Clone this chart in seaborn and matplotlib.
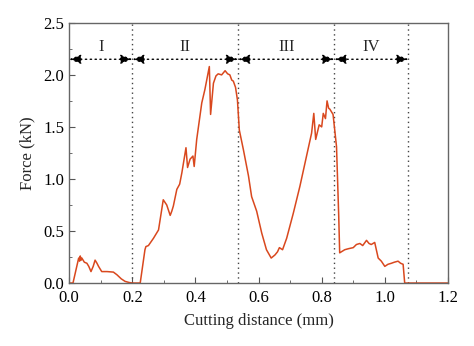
import numpy as np
import pandas as pd
import seaborn as sns
import matplotlib.pyplot as plt
from matplotlib.ticker import MultipleLocator, FormatStrFormatter

distance = [0.0, 0.012, 0.030, 0.033, 0.035, 0.038, 0.040, 0.048, 0.056, 0.062, 0.069, 0.076, 0.082, 0.088,
            0.093, 0.103, 0.120, 0.140, 0.151, 0.165, 0.177, 0.190, 0.200,
            0.225, 0.240, 0.243, 0.251, 0.267, 0.283, 0.298, 0.309, 0.320, 0.325, 0.330, 0.341, 0.350, 0.357,
            0.370, 0.375, 0.383, 0.392, 0.396, 0.404, 0.420, 0.430, 0.444, 0.448, 0.457, 0.465, 0.472, 0.483,
            0.494, 0.502, 0.509, 0.515, 0.520, 0.527, 0.533, 0.539, 0.552, 0.568, 0.578, 0.594, 0.610, 0.625,
            0.640, 0.652, 0.660, 0.666, 0.676, 0.689, 0.710, 0.731, 0.752, 0.768, 0.775, 0.781, 0.792, 0.800,
            0.805, 0.812, 0.817, 0.822, 0.826, 0.836, 0.847, 0.854, 0.857, 0.873, 0.885, 0.900, 0.910, 0.921,
            0.930, 0.942, 0.950, 0.957, 0.968, 0.979, 0.989, 1.000, 1.010, 1.021, 1.030, 1.042, 1.050, 1.058,
            1.063, 1.200]
force = [0.0, 0.0, 0.24, 0.21, 0.26, 0.22, 0.24, 0.20, 0.19, 0.16, 0.11, 0.16, 0.22, 0.19,
         0.16, 0.11, 0.11, 0.105, 0.08, 0.04, 0.016, 0.005, 0.0,
         0.0, 0.32, 0.35, 0.36, 0.43, 0.51, 0.80, 0.75, 0.65, 0.69, 0.74, 0.90, 0.95, 1.06,
         1.30, 1.11, 1.19, 1.22, 1.12, 1.38, 1.73, 1.86, 2.08, 1.62, 1.92, 1.99, 2.01, 2.00,
         2.04, 2.01, 2.00, 1.95, 1.94, 1.88, 1.76, 1.47, 1.28, 1.03, 0.83, 0.69, 0.48, 0.32,
         0.24, 0.27, 0.30, 0.34, 0.32, 0.43, 0.67, 0.93, 1.22, 1.44, 1.63, 1.38, 1.52, 1.50,
         1.63, 1.58, 1.75, 1.68, 1.67, 1.62, 1.31, 0.64, 0.29, 0.32, 0.33, 0.34, 0.37, 0.38,
         0.36, 0.41, 0.38, 0.37, 0.39, 0.24, 0.21, 0.16, 0.18, 0.19, 0.20, 0.21, 0.19, 0.18,
         0.0, 0.0]

stage_bounds = [0.0, 0.2, 0.535, 0.84, 1.075]
stage_labels = ["I", "II", "III", "IV"]

df = pd.DataFrame({"distance": distance, "force": force})

sns.set_style("ticks")
plt.rcParams['font.family'] = ['Liberation Serif', 'DejaVu Serif']

fig, ax = plt.subplots(figsize=(4.74, 3.46), dpi=100)
fig.subplots_adjust(left=0.146, right=0.945, top=0.934, bottom=0.182)

sns.lineplot(data=df, x="distance", y="force", ax=ax, color="#D9481E", linewidth=1.1)

arrow_y = 2.15
for b in stage_bounds[1:]:
    ax.axvline(b, color="#444444", linestyle=(0, (1, 2.5)), linewidth=1.0, zorder=1)
for i, lab in enumerate(stage_labels):
    x0, x1 = stage_bounds[i], stage_bounds[i + 1]
    ax.annotate("", xy=(x0, arrow_y), xytext=(x1, arrow_y),
                arrowprops=dict(arrowstyle="<|-|>,head_length=0.7,head_width=0.28",
                                linestyle=(0, (1, 2.5)), color="black",
                                lw=1.0, mutation_scale=10, shrinkA=0, shrinkB=0))
    ax.text((x0 + x1) / 2, 2.27, lab, ha="center", va="center", fontsize=12)

ax.set_xlim(0, 1.2)
ax.set_ylim(0, 2.5)
ax.xaxis.set_major_locator(MultipleLocator(0.2))
ax.xaxis.set_minor_locator(MultipleLocator(0.1))
ax.yaxis.set_major_locator(MultipleLocator(0.5))
ax.yaxis.set_minor_locator(MultipleLocator(0.25))
ax.xaxis.set_major_formatter(FormatStrFormatter("%.1f"))
ax.yaxis.set_major_formatter(FormatStrFormatter("%.1f"))
ax.tick_params(which="both", direction="in", colors="#555555", labelcolor="black", labelsize=12)
ax.tick_params(which="major", length=4)
ax.tick_params(which="minor", length=2.5)
ax.tick_params(axis="x", which="major", pad=5)
for s in ax.spines.values():
    s.set_color("#666666")
    s.set_linewidth(1.0)

ax.set_xlabel("Cutting distance (mm)", fontsize=12, labelpad=5)
ax.set_ylabel("Force (kN)", fontsize=12, labelpad=6)

fig.savefig("out.png", dpi=100)
